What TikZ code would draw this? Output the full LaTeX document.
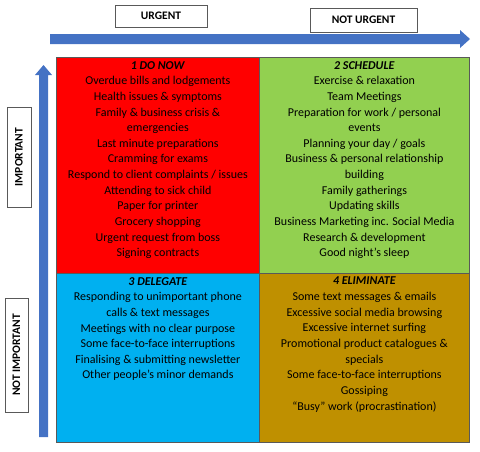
\documentclass[tikz,border=0pt]{standalone}
\usepackage{fontspec}
\setmainfont{Carlito}
\definecolor{qred}{HTML}{FF0000}
\definecolor{qgreen}{HTML}{92D050}
\definecolor{qblue}{HTML}{00B0F0}
\definecolor{qgold}{HTML}{BF9000}
\definecolor{axisblue}{HTML}{4472C4}
\definecolor{edgegray}{HTML}{595959}
\begin{document}
\begin{tikzpicture}[x=1pt,y=-1pt,
  quad/.style={draw=edgegray, line width=0.8pt, inner sep=0pt, anchor=north west},
  qtext/.style={anchor=north, align=center, inner sep=0pt, font=\fontsize{12}{15.65}\selectfont},
  lab/.style={draw=edgegray, line width=0.6pt, fill=white, inner sep=0pt, font=\fontsize{11.5}{13}\selectfont\bfseries}
]
\useasboundingbox (0,0) rectangle (480,451);
% axes
\fill[axisblue] (50,34) -- (460,34) -- (460,30) -- (470,39) -- (460,48) -- (460,44) -- (50,44) -- cycle;
\fill[axisblue] (39,437) -- (39,75) -- (35,75) -- (43.5,65) -- (52,75) -- (48,75) -- (48,437) -- cycle;
% labels
\node[lab, minimum width=92pt, minimum height=22pt] (urg) at (161,16) {URGENT};
\node[lab, minimum width=107pt, minimum height=24pt] (nurg) at (363.5,20) {NOT URGENT};
\node[lab, rotate=90, minimum width=100pt, minimum height=24pt] (imp) at (19,157) {IMPORTANT};
\node[lab, rotate=90, minimum width=114pt, minimum height=23pt] (nimp) at (16.5,355) {NOT IMPORTANT};
% quadrants
\node[quad, fill=qred, minimum width=203pt, minimum height=216pt] (q1) at (56,57) {};
\node[quad, fill=qgreen, minimum width=210pt, minimum height=216pt] (q2) at (259,57) {};
\node[quad, fill=qblue, minimum width=203pt, minimum height=169pt] (q3) at (56,273) {};
\node[quad, fill=qgold, minimum width=210pt, minimum height=169pt] (q4) at (259,273) {};
\node[qtext] (t1) at ([yshift=-4pt]q1.north) {\textbf{\textit{1 DO NOW}}\\
Overdue bills and lodgements\\
Health issues \& symptoms\\
Family \& business crisis \&\\
emergencies\\
Last minute preparations\\
Cramming for exams\\
Respond to client complaints / issues\\
Attending to sick child\\
Paper for printer\\
Grocery shopping\\
Urgent request from boss\\
Signing contracts};
\node[qtext] (t2) at ([yshift=-4pt]q2.north) {\textbf{\textit{2 SCHEDULE}}\\
Exercise \& relaxation\\
Team Meetings\\
Preparation for work / personal\\
events\\
Planning your day / goals\\
Business \& personal relationship\\
building\\
Family gatherings\\
Updating skills\\
Business Marketing inc. Social Media\\
Research \& development\\
Good night’s sleep};
\node[qtext] (t3) at ([yshift=-4pt]q3.north) {\textbf{\textit{3 DELEGATE}}\\
Responding to unimportant phone\\
calls \& text messages\\
Meetings with no clear purpose\\
Some face-to-face interruptions\\
Finalising \& submitting newsletter\\
Other people’s minor demands};
\node[qtext] (t4) at ([yshift=-4pt]q4.north) {\textbf{\textit{4 ELIMINATE}}\\
Some text messages \& emails\\
Excessive social media browsing\\
Excessive internet surfing\\
Promotional product catalogues \&\\
specials\\
Some face-to-face interruptions\\
Gossiping\\
“Busy” work (procrastination)};
\end{tikzpicture}
\end{document}
